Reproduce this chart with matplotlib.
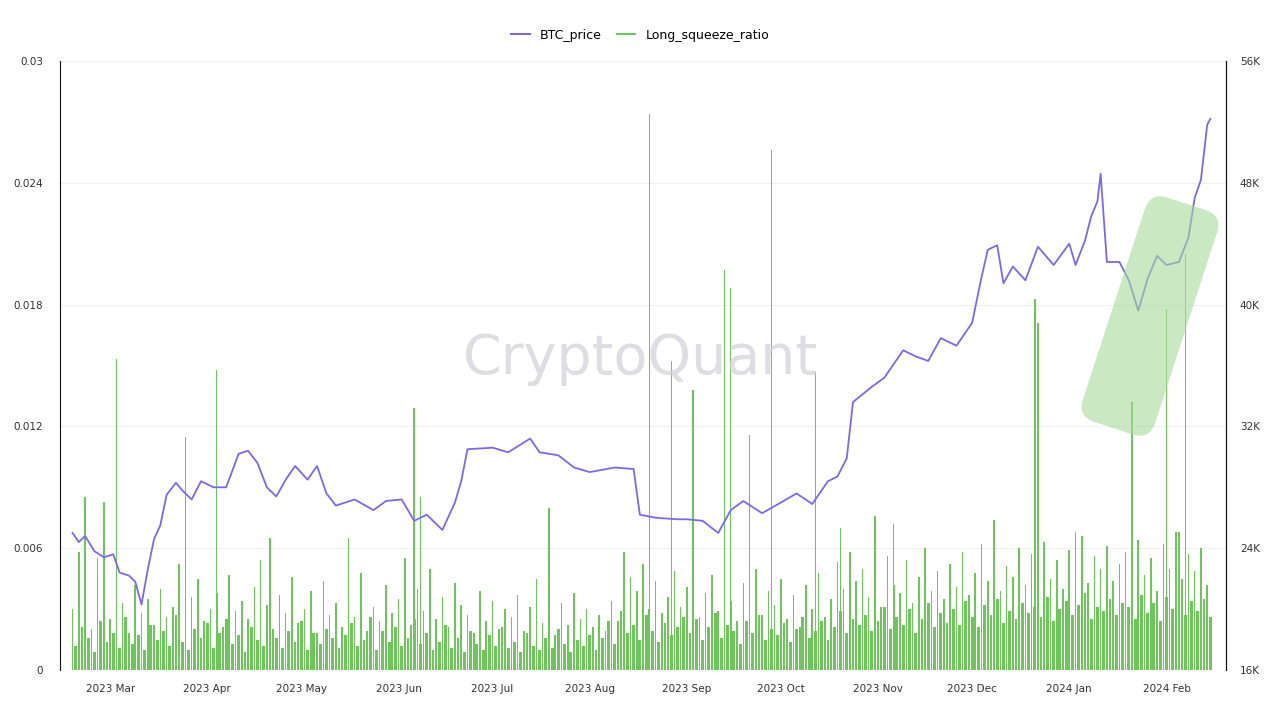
import numpy as np
import pandas as pd
import matplotlib
matplotlib.use("Agg")
import matplotlib.pyplot as plt
import matplotlib.dates as mdates
from matplotlib.patches import FancyBboxPatch
from matplotlib.transforms import Affine2D
from matplotlib.ticker import FuncFormatter

# BTC price (K USD) at key dates
price_dates = ["2023-02-17", "2023-02-19", "2023-02-21", "2023-02-24", "2023-02-27", "2023-03-02",
               "2023-03-04", "2023-03-07", "2023-03-09", "2023-03-11", "2023-03-13", "2023-03-15",
               "2023-03-17", "2023-03-19", "2023-03-22", "2023-03-24", "2023-03-27", "2023-03-30",
               "2023-04-03", "2023-04-07", "2023-04-11", "2023-04-14", "2023-04-17", "2023-04-20",
               "2023-04-23", "2023-04-26", "2023-04-29", "2023-05-03", "2023-05-06", "2023-05-09",
               "2023-05-12", "2023-05-18", "2023-05-24", "2023-05-28", "2023-06-02", "2023-06-06",
               "2023-06-10", "2023-06-15", "2023-06-19", "2023-06-21", "2023-06-23", "2023-07-01",
               "2023-07-06", "2023-07-13", "2023-07-16", "2023-07-22", "2023-07-27", "2023-08-01",
               "2023-08-09", "2023-08-15", "2023-08-17", "2023-08-22", "2023-08-29", "2023-09-01",
               "2023-09-06", "2023-09-11", "2023-09-15", "2023-09-19", "2023-09-25", "2023-10-01",
               "2023-10-06", "2023-10-11", "2023-10-16", "2023-10-19", "2023-10-22", "2023-10-24",
               "2023-10-30", "2023-11-03", "2023-11-09", "2023-11-13", "2023-11-17", "2023-11-21",
               "2023-11-26", "2023-12-01", "2023-12-04", "2023-12-06", "2023-12-09", "2023-12-11",
               "2023-12-14", "2023-12-18", "2023-12-22", "2023-12-27", "2024-01-01", "2024-01-03",
               "2024-01-06", "2024-01-08", "2024-01-10", "2024-01-11", "2024-01-13", "2024-01-17",
               "2024-01-20", "2024-01-23", "2024-01-26", "2024-01-29", "2024-02-01", "2024-02-05",
               "2024-02-08", "2024-02-10", "2024-02-12", "2024-02-14", "2024-02-15"]
btc_price = [25.0, 24.4, 24.8, 23.8, 23.4, 23.6,
             22.4, 22.2, 21.8, 20.3, 22.6, 24.6,
             25.5, 27.5, 28.3, 27.8, 27.2, 28.4,
             28.0, 28.0, 30.2, 30.4, 29.6, 28.0,
             27.4, 28.5, 29.4, 28.5, 29.4, 27.6,
             26.8, 27.2, 26.5, 27.1, 27.2, 25.8,
             26.2, 25.2, 27.0, 28.4, 30.5, 30.6,
             30.3, 31.2, 30.3, 30.1, 29.3, 29.0,
             29.3, 29.2, 26.2, 26.0, 25.9, 25.9,
             25.8, 25.0, 26.5, 27.1, 26.3, 27.0,
             27.6, 26.9, 28.4, 28.7, 29.9, 33.6,
             34.6, 35.2, 37.0, 36.6, 36.3, 37.8,
             37.3, 38.8, 41.8, 43.6, 43.9, 41.4,
             42.5, 41.6, 43.8, 42.6, 44.0, 42.6,
             44.2, 45.8, 46.8, 48.6, 42.8, 42.8,
             41.6, 39.6, 41.7, 43.2, 42.6, 42.8,
             44.4, 47.0, 48.2, 51.8, 52.2]

# Long squeeze ratio: larger spikes
spike_dates = ["2023-02-21", "2023-02-27", "2023-03-03", "2023-03-25", "2023-04-04", "2023-04-21",
               "2023-05-16", "2023-06-06", "2023-06-08", "2023-07-19", "2023-08-20", "2023-08-27",
               "2023-09-03", "2023-09-13", "2023-09-15", "2023-09-21", "2023-09-28", "2023-10-12",
               "2023-10-20", "2023-10-31", "2023-11-06", "2023-12-08", "2023-12-21", "2023-12-22",
               "2024-01-03", "2024-01-21", "2024-02-01", "2024-02-05", "2024-02-07"]
spike_values = [0.0085, 0.0083, 0.0153, 0.0115, 0.0148, 0.0065,
                0.0065, 0.0129, 0.0085, 0.0080, 0.0274, 0.0152,
                0.0138, 0.0197, 0.0188, 0.0116, 0.0256, 0.0147,
                0.0070, 0.0076, 0.0072, 0.0074, 0.0183, 0.0171,
                0.0068, 0.0132, 0.0178, 0.0068, 0.0205]

# Long squeeze ratio: smaller bars every two days from 2023-02-17
minor_start = "2023-02-17"
minor_values = [
    0.0030, 0.0058, 0.0045, 0.0020, 0.0055, 0.0038, 0.0025, 0.0060, 0.0033, 0.0018, 0.0042, 0.0028, 0.0035, 0.0022,
    0.0040, 0.0026, 0.0031, 0.0052, 0.0019, 0.0036, 0.0045, 0.0024, 0.0030, 0.0038, 0.0021, 0.0047, 0.0029, 0.0034,
    0.0025, 0.0041, 0.0054, 0.0032, 0.0020, 0.0037, 0.0028, 0.0046, 0.0023, 0.0030, 0.0039, 0.0018, 0.0044, 0.0027,
    0.0033, 0.0021, 0.0038, 0.0026, 0.0048, 0.0019, 0.0031, 0.0024, 0.0042, 0.0028, 0.0035, 0.0055, 0.0022, 0.0040,
    0.0029, 0.0050, 0.0025, 0.0036, 0.0021, 0.0043, 0.0032, 0.0027, 0.0018, 0.0039, 0.0024, 0.0034, 0.0020, 0.0030,
    0.0026, 0.0037, 0.0019, 0.0031, 0.0045, 0.0023, 0.0028, 0.0017, 0.0033, 0.0022, 0.0038, 0.0025, 0.0030, 0.0021,
    0.0027, 0.0019, 0.0034, 0.0024, 0.0058, 0.0046, 0.0039, 0.0052, 0.0030, 0.0044, 0.0028, 0.0036, 0.0049, 0.0031,
    0.0041, 0.0055, 0.0026, 0.0038, 0.0047, 0.0029, 0.0052, 0.0034, 0.0024, 0.0043, 0.0036, 0.0050, 0.0027, 0.0039,
    0.0032, 0.0045, 0.0025, 0.0037, 0.0021, 0.0042, 0.0030, 0.0048, 0.0026, 0.0035, 0.0053, 0.0040, 0.0058, 0.0044,
    0.0050, 0.0036, 0.0047, 0.0031, 0.0056, 0.0042, 0.0038, 0.0054, 0.0033, 0.0046, 0.0060, 0.0039, 0.0049, 0.0035,
    0.0052, 0.0041, 0.0058, 0.0037, 0.0048, 0.0062, 0.0044, 0.0055, 0.0039, 0.0051, 0.0046, 0.0060, 0.0042, 0.0057,
    0.0049, 0.0063, 0.0045, 0.0054, 0.0040, 0.0059, 0.0047, 0.0066, 0.0043, 0.0056, 0.0050, 0.0061, 0.0044, 0.0052,
    0.0058, 0.0041, 0.0064, 0.0047, 0.0055, 0.0039, 0.0062, 0.0050, 0.0068, 0.0045, 0.0057, 0.0049, 0.0060, 0.0042,
]
# in-between days, smaller heights
between_values = [
    0.0012, 0.0021, 0.0016, 0.0009, 0.0024, 0.0014, 0.0018, 0.0011, 0.0026, 0.0013, 0.0017, 0.0010, 0.0022, 0.0015,
    0.0019, 0.0012, 0.0027, 0.0014, 0.0010, 0.0020, 0.0016, 0.0023, 0.0011, 0.0018, 0.0025, 0.0013, 0.0017, 0.0009,
    0.0021, 0.0015, 0.0012, 0.0028, 0.0016, 0.0011, 0.0019, 0.0014, 0.0024, 0.0010, 0.0018, 0.0013, 0.0020, 0.0016,
    0.0011, 0.0017, 0.0023, 0.0012, 0.0015, 0.0026, 0.0010, 0.0019, 0.0014, 0.0021, 0.0012, 0.0016, 0.0025, 0.0013,
    0.0018, 0.0010, 0.0014, 0.0022, 0.0011, 0.0016, 0.0009, 0.0019, 0.0013, 0.0010, 0.0017, 0.0012, 0.0021, 0.0011,
    0.0014, 0.0009, 0.0018, 0.0012, 0.0010, 0.0016, 0.0011, 0.0020, 0.0013, 0.0009, 0.0015, 0.0012, 0.0017, 0.0010,
    0.0016, 0.0024, 0.0013, 0.0029, 0.0018, 0.0022, 0.0015, 0.0027, 0.0019, 0.0014, 0.0023, 0.0017, 0.0021, 0.0026,
    0.0018, 0.0025, 0.0015, 0.0021, 0.0028, 0.0016, 0.0022, 0.0019, 0.0013, 0.0024, 0.0018, 0.0027, 0.0015, 0.0020,
    0.0017, 0.0023, 0.0014, 0.0020, 0.0026, 0.0016, 0.0019, 0.0024, 0.0015, 0.0021, 0.0029, 0.0018, 0.0025, 0.0022,
    0.0027, 0.0019, 0.0024, 0.0031, 0.0020, 0.0026, 0.0022, 0.0030, 0.0018, 0.0025, 0.0033, 0.0021, 0.0028, 0.0023,
    0.0030, 0.0022, 0.0034, 0.0026, 0.0021, 0.0032, 0.0027, 0.0035, 0.0023, 0.0029, 0.0025, 0.0033, 0.0028, 0.0031,
    0.0026, 0.0036, 0.0024, 0.0030, 0.0034, 0.0027, 0.0032, 0.0038, 0.0025, 0.0031, 0.0029, 0.0035, 0.0027, 0.0033,
    0.0031, 0.0025, 0.0037, 0.0028, 0.0033, 0.0024, 0.0036, 0.0030, 0.0039, 0.0027, 0.0034, 0.0029, 0.0035, 0.0026,
]

PURPLE = "#7b68ee"
GREEN = "#6cc65a"

fig = plt.figure(figsize=(12.8, 7.04), dpi=100)
ax = fig.add_axes([60 / 1280, 1 - 670 / 704, 1166 / 1280, 609 / 704])
ax2 = ax.twinx()

minor_x = pd.date_range(minor_start, periods=len(minor_values), freq="2D")
ax.bar(minor_x, minor_values, width=0.5, color=GREEN, lw=0)
ax.bar(minor_x + pd.Timedelta(days=1), between_values, width=0.9, color=GREEN, lw=0)
ax.bar(pd.to_datetime(spike_dates), spike_values, width=0.45, color=GREEN, lw=0)

ax2.plot(pd.to_datetime(price_dates), btc_price, color=PURPLE, lw=1.3)

ax.set_ylim(0, 0.03)
ax.set_yticks(np.arange(0, 0.0301, 0.006))
ax.yaxis.set_major_formatter(FuncFormatter(lambda v, p: f"{round(v, 4):g}"))
ax2.set_ylim(16, 56)
ax2.set_yticks(range(16, 57, 8))
ax2.yaxis.set_major_formatter(FuncFormatter(lambda v, p: f"{int(v)}K"))
ax.set_xlim(pd.Timestamp("2023-02-13"), pd.Timestamp("2024-02-20"))
ax.xaxis.set_major_locator(mdates.MonthLocator(bymonthday=1))
ax.xaxis.set_major_formatter(mdates.DateFormatter("%Y %b"))

ax.grid(axis="y", color="#f0f0f0", lw=0.8)
ax.set_axisbelow(True)
for a in (ax, ax2):
    a.spines["top"].set_visible(False)
    a.spines["bottom"].set_visible(False)
    a.tick_params(labelsize=7.5, colors="#333333", length=0)
ax.spines["left"].set_color("#111111")
ax2.spines["right"].set_color("#111111")
ax2.spines["left"].set_visible(False)
ax.tick_params(axis="y", pad=12)
ax2.tick_params(axis="y", pad=10)
ax.tick_params(axis="x", pad=10)

# highlight box, rotated rounded rectangle in pixel coordinates
cx, cy = 1150, 704 - 316
box = FancyBboxPatch((cx - 38, cy - 118), 76, 236, boxstyle="round,pad=0,rounding_size=18",
                     facecolor="#a8d99a", edgecolor="none", alpha=0.6, zorder=5,
                     transform=Affine2D().rotate_deg_around(cx, cy, -18))
fig.patches.append(box)

fig.text(0.5, 0.49, "CryptoQuant", ha="center", va="center", fontsize=40,
         color="#cfcfd6", alpha=0.7, zorder=0)

handles = [plt.Line2D([], [], color=PURPLE, lw=1.5), plt.Line2D([], [], color=GREEN, lw=1.5)]
fig.legend(handles, ["BTC_price", "Long_squeeze_ratio"], loc="center", bbox_to_anchor=(0.5, 1 - 35 / 704),
           ncol=2, frameon=False, fontsize=9, handlelength=1.5, columnspacing=1.2)

fig.savefig("out.png", dpi=100)
